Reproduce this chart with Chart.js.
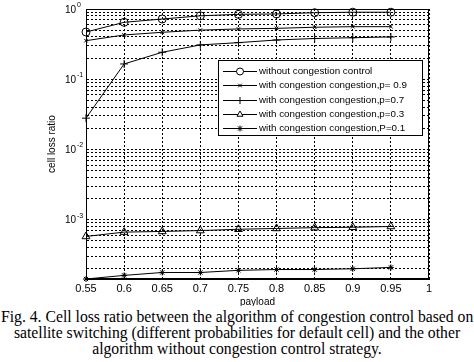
<!DOCTYPE html>
<html lang="en">
<head>
    <meta charset="UTF-8">
    <title>Cell loss ratio vs payload</title>
    <script src="https://cdn.jsdelivr.net/npm/chart.js"></script>
    <style>
        body {
            margin: 0;
            background: #fff;
        }

        #wrap {
            position: relative;
            width: 474px;
            height: 362px;
            overflow: hidden;
        }

        #lossChart {
            position: absolute;
            left: 0;
            top: 0;
        }

        .caption {
            position: absolute;
            left: 0;
            width: 474px;
            font-family: 'Liberation Serif', 'Times New Roman', serif;
            font-size: 15.7px;
            line-height: 16px;
            white-space: nowrap;
            color: #000;
            text-align: center;
        }
    </style>
</head>
<body>
    <div id="wrap">
        <canvas id="lossChart" width="474" height="306"></canvas>
        <div class="caption" style="top:309px; text-align:left; left:1px;">Fig. 4. Cell loss ratio between the algorithm of congestion control based on</div>
        <div class="caption" style="top:325px;">satellite switching (different probabilities for default cell) and the other</div>
        <div class="caption" style="top:341px;">algorithm without congestion control strategy.</div>
    </div>

    <script>
        // payload values (x axis)
        const payload = [0.55, 0.6, 0.65, 0.7, 0.75, 0.8, 0.85, 0.9, 0.95];
        const xTicks = [0.55, 0.6, 0.65, 0.7, 0.75, 0.8, 0.85, 0.9, 0.95, 1];

        // cell loss ratio
        const withoutControl = [0.47, 0.646, 0.72, 0.80, 0.84, 0.85, 0.886, 0.90, 0.90];
        const p09 = [0.354, 0.427, 0.466, 0.50, 0.52, 0.53, 0.55, 0.56, 0.56];
        const p07 = [0.0279, 0.165, 0.242, 0.308, 0.332, 0.362, 0.38, 0.39, 0.40];
        const p03 = [0.000577, 0.000665, 0.00068, 0.0007, 0.00073, 0.00075, 0.00077, 0.00078, 0.0008];
        const p01 = [0.000143, 0.000161, 0.000177, 0.000177, 0.00019, 0.000195, 0.000195, 0.0002, 0.000209];

        const seriesNames = [
            'without congestion control',
            'with congestion congestion,p= 0.9',
            'with congestion congestion,p=0.7',
            'with congestion congestion,p=0.3',
            'with congestion congestion,P=0.1'
        ];

        // log axis: decades and minor grid multipliers
        const yDecades = [0.0001, 0.001, 0.01, 0.1, 1];
        const yMinor = [1, 2, 3, 4, 5, 6, 7, 8, 9];
        const yLabelDecades = [1, 0.1, 0.01, 0.001];
        const yLabelExps = ['0', '-1', '-2', '-3'];
        const yMin = 0.000143;

        const styles = [
            { pointStyle: 'circle', radius: 4 },
            { pointStyle: 'crossRot', radius: 2.5 },
            { pointStyle: 'cross', radius: 4 },
            { pointStyle: 'triangle', radius: 4.5 },
            { pointStyle: 'star', radius: 3 }
        ];
        const allSeries = [withoutControl, p09, p07, p03, p01];

        const datasets = allSeries.map((vals, i) => ({
            label: seriesNames[i],
            data: vals.map((v, k) => ({ x: payload[k], y: v })),
            borderColor: '#000',
            borderWidth: 1,
            backgroundColor: 'rgba(0,0,0,0)',
            pointStyle: styles[i].pointStyle,
            pointRadius: styles[i].radius,
            pointBorderColor: '#000',
            pointBorderWidth: 1,
            tension: 0,
            clip: false
        }));

        // draws tick labels with superscripts, axis titles, box and legend
        const matlabLook = {
            id: 'matlabLook',
            afterDraw(chart) {
                const ctx = chart.ctx;
                const area = chart.chartArea;
                const yScale = chart.scales.y;
                ctx.save();
                ctx.fillStyle = '#000';

                // y tick labels 10^n
                yLabelDecades.forEach((v, i) => {
                    const y = yScale.getPixelForValue(v);
                    ctx.font = '10px "Liberation Sans", Arial, sans-serif';
                    ctx.textAlign = 'right';
                    ctx.textBaseline = 'middle';
                    ctx.fillText('10', 76, y + 1);
                    ctx.font = '7px "Liberation Sans", Arial, sans-serif';
                    ctx.textAlign = 'left';
                    ctx.fillText(yLabelExps[i], 77, y - 4);
                });

                // axis titles
                ctx.font = '10px "Liberation Sans", Arial, sans-serif';
                ctx.textAlign = 'center';
                ctx.textBaseline = 'middle';
                ctx.fillText('payload', (area.left + area.right) / 2, 302);
                ctx.save();
                ctx.translate(52, (area.top + area.bottom) / 2);
                ctx.rotate(-Math.PI / 2);
                ctx.fillText('cell loss ratio', 0, 0);
                ctx.restore();

                // axes box
                ctx.strokeStyle = '#000';
                ctx.lineWidth = 1;
                ctx.strokeRect(area.left + 0.5, area.top + 0.5, area.right - area.left - 1, area.bottom - area.top - 1);

                // legend
                const lx = 218, ly = 60, lw = 204, lh = 75;
                ctx.fillStyle = '#fff';
                ctx.fillRect(lx, ly, lw, lh);
                ctx.strokeRect(lx + 0.5, ly + 0.5, lw, lh);
                chart.data.datasets.forEach((ds, i) => {
                    const y = Math.round(71 + i * 14.25) + 0.5;
                    ctx.strokeStyle = '#000';
                    ctx.lineWidth = 1;
                    ctx.beginPath();
                    ctx.moveTo(223, y);
                    ctx.lineTo(257, y);
                    ctx.stroke();
                    ctx.fillStyle = '#fff';
                    Chart.helpers.drawPoint(ctx, {
                        pointStyle: ds.pointStyle,
                        radius: Math.min(ds.pointRadius, 3.5),
                        borderWidth: 1,
                        rotation: 0
                    }, 240, y);
                    ctx.fillStyle = '#000';
                    ctx.font = '9.8px "Liberation Sans", Arial, sans-serif';
                    ctx.textAlign = 'left';
                    ctx.textBaseline = 'middle';
                    ctx.fillText(ds.label, 259, y);
                });
                ctx.restore();
            }
        };

        const gridStyle = {
            color: '#000',
            lineWidth: 1,
            drawTicks: false
        };

        new Chart(document.getElementById('lossChart'), {
            type: 'line',
            data: { datasets: datasets },
            options: {
                responsive: false,
                animation: false,
                layout: { padding: { left: 0, right: 45, top: 9, bottom: 0 } },
                plugins: {
                    legend: { display: false },
                    tooltip: { enabled: false }
                },
                scales: {
                    x: {
                        type: 'linear',
                        min: 0.55,
                        max: 1,
                        afterBuildTicks: (scale) => {
                            scale.ticks = xTicks.map(v => ({ value: v }));
                        },
                        afterFit: (scale) => { scale.height = 27; },
                        grid: gridStyle,
                        border: { display: true, color: '#000', dash: [2, 2] },
                        ticks: {
                            padding: 3,
                            color: '#000',
                            autoSkip: false,
                            maxRotation: 0,
                            font: { family: '"Liberation Sans", Arial, sans-serif', size: 11 },
                            callback: (v) => String(Number(v.toFixed(2)))
                        }
                    },
                    y: {
                        type: 'logarithmic',
                        min: yMin,
                        max: 1,
                        afterBuildTicks: (scale) => {
                            const list = [];
                            yDecades.forEach(d => yMinor.forEach(m => {
                                const v = d * m;
                                if (v >= yMin && v <= 1.0001) list.push({ value: v });
                            }));
                            scale.ticks = list;
                        },
                        afterFit: (scale) => { scale.width = 86; },
                        grid: gridStyle,
                        border: { display: true, color: '#000', dash: [2, 2] },
                        ticks: { display: false }
                    }
                }
            },
            plugins: [matlabLook]
        });
    </script>
</body>
</html>
